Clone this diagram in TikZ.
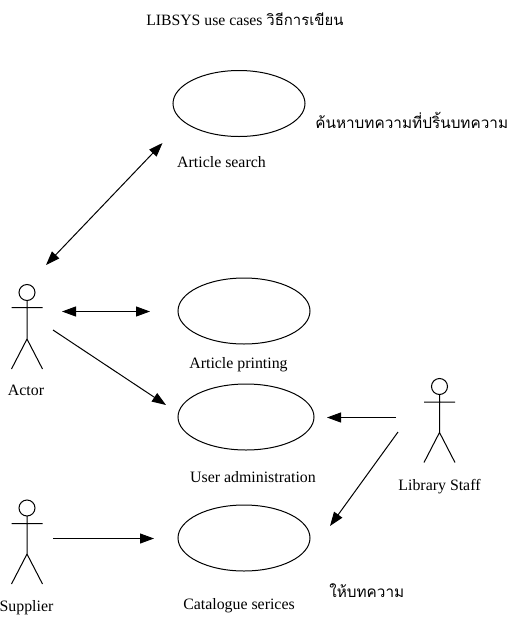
\documentclass[tikz,border=0pt]{standalone}
\usepackage{fontspec}
\usepackage{tikz}
\usepackage{xcolor}
\setmainfont{Liberation Serif}
\newfontfamily\thaifont[Script=Thai]{Loma}
\usetikzlibrary{arrows.meta,shapes.geometric}
\tikzset{
  usecase/.style={draw,ellipse,line width=0.75pt,inner sep=0pt,minimum width=99pt,minimum height=49.5pt},
  figure/.style={line width=0.75pt},
  link/.style={line width=0.75pt,-{Triangle[length=10.5pt,width=7.5pt]}},
  bothlink/.style={line width=0.75pt,{Triangle[length=10.5pt,width=7.5pt]}-{Triangle[length=10.5pt,width=7.5pt]}},
  caption/.style={anchor=base,inner sep=0pt,font=\fontsize{11.9pt}{14pt}\selectfont},
  thainote/.style={anchor=base west,inner sep=0pt,font=\fontsize{11.5pt}{14pt}\selectfont\thaifont}
}
\begin{document}
\begin{tikzpicture}[x=0.75pt,y=0.75pt,yscale=-1,xscale=1]
\useasboundingbox (0,0) rectangle (508,618);
%Shape: Ellipse
\node [usecase] (search) at (239,103.5) {};
\node [usecase] (printing) at (244,311) {};
\node [usecase,minimum width=102pt] (admin) at (246,417) {};
\node [usecase] (catalogue) at (244,538) {};

%Shape: Actor
\draw [figure] (27,292.5) circle [radius=8] (27,300.5) -- (27,339) (11.5,307.5) -- (42.5,307.5) (11.5,369) -- (27,339) -- (42.5,369);
%Shape: Library Staff
\draw [figure] (439.5,386.5) circle [radius=8] (439.5,394.5) -- (439.5,432.5) (424,402) -- (455,402) (424,462.5) -- (439.5,432.5) -- (455,462.5);
%Shape: Supplier
\draw [figure] (27,508) circle [radius=8] (27,516) -- (27,554) (11.5,523.5) -- (42.5,523.5) (11.5,584) -- (27,554) -- (42.5,584);

%Arrow ends
\coordinate (actortop) at (46,265);
\coordinate (searchend) at (162.5,143);
\coordinate (actormid) at (62,311.5);
\coordinate (printingend) at (150,311.5);
\coordinate (actorlow) at (53,330);
\coordinate (adminleft) at (166,405);
\coordinate (staffup) at (396,417.5);
\coordinate (adminright) at (327,417.5);
\coordinate (stafflow) at (398,432);
\coordinate (catalogueright) at (330,526);
\coordinate (supplierend) at (53,538.5);
\coordinate (catalogueleft) at (154,538.5);

%Straight Lines
\draw [bothlink] (actortop) -- (searchend);
\draw [bothlink] (actormid) -- (printingend);
\draw [link] (actorlow) -- (adminleft);
\draw [link] (staffup) -- (adminright);
\draw [link] (stafflow) -- (catalogueright);
\draw [link] (supplierend) -- (catalogueleft);

% Text Node
\node [anchor=base west,inner sep=0pt,font=\fontsize{11.8pt}{14pt}\selectfont] (title) at (146,25.5) {LIBSYS use cases {\fontsize{11.2pt}{14pt}\selectfont\thaifont วิธีการเขียน}};
% Text Node
\node [thainote] (searchnote) at (315,128) {ค้นหาบทความที่ปริ้นบทความ};
% Text Node
\node [thainote] (cataloguenote) at (329,597) {ให้บทความ};
% Text Node
\node [caption] (searchtext) at (221.5,167) {Article search};
% Text Node
\node [caption] (printingtext) at (238.5,368) {Article printing};
% Text Node
\node [caption] (actortext) at (26,395) {Actor};
% Text Node
\node [caption] (admintext) at (253,482) {User administration};
% Text Node
\node [caption] (stafftext) at (439.5,490) {Library Staff};
% Text Node
\node [caption] (suppliertext) at (26.5,611) {Supplier};
% Text Node
\node [caption] (cataloguetext) at (239,609) {Catalogue serices};
\end{tikzpicture}
\end{document}
